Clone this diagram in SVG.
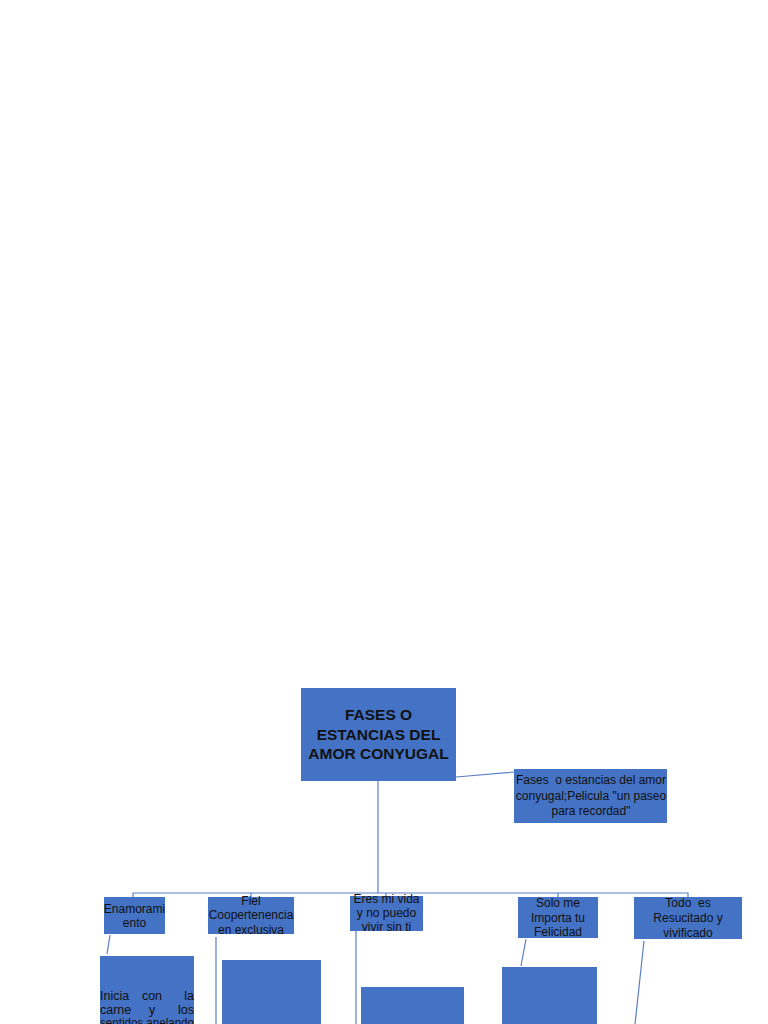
<svg xmlns="http://www.w3.org/2000/svg" width="768" height="1024" viewBox="0 0 768 1024">
<style>
.box{fill:#4472C4;}
.t{font-family:"Liberation Sans",Arial,sans-serif;font-size:12px;fill:#111;text-anchor:middle;}
.tl{font-family:"Liberation Sans",Arial,sans-serif;font-size:12.5px;fill:#111;}
.title{font-family:"Liberation Sans",Arial,sans-serif;font-size:15.5px;font-weight:bold;fill:#111;text-anchor:middle;}
.c{stroke:#5B7FC4;stroke-width:1.2;fill:none;}
</style>
<rect width="768" height="1024" fill="#fff"/>
<g id="connectors">
<line class="c" x1="456" y1="777" x2="514" y2="772"/>
<line class="c" x1="378" y1="781" x2="378" y2="893"/>
<polyline class="c" points="133,897 133,893 688,893 688,897"/>
<line class="c" x1="251" y1="893" x2="251" y2="897"/>
<line class="c" x1="386" y1="893" x2="386" y2="896"/>
<line class="c" x1="558" y1="893" x2="558" y2="897"/>
<line class="c" x1="110" y1="935" x2="107" y2="954"/>
<line class="c" x1="216" y1="937" x2="216" y2="1024"/>
<line class="c" x1="356" y1="931" x2="356" y2="1024"/>
<line class="c" x1="526" y1="939" x2="521" y2="966"/>
<line class="c" x1="644" y1="941" x2="635" y2="1024"/>
</g>
<g id="main">
<rect class="box" x="301" y="688" width="155" height="93"/>
<text class="title" x="378.5" y="720">FASES O</text>
<text class="title" x="378.5" y="740">ESTANCIAS DEL</text>
<text class="title" x="378.5" y="759">AMOR CONYUGAL</text>
</g>
<g id="side">
<rect class="box" x="514" y="769" width="153" height="54"/>
<text class="t" x="591" y="784" xml:space="preserve">Fases  o estancias del amor</text>
<text class="t" x="591" y="800">conyugal;Pelicula "un paseo</text>
<text class="t" x="591" y="815">para recordad"</text>
</g>
<g id="enamoramiento">
<rect class="box" x="104" y="897" width="61" height="37"/>
<text class="t" x="134.5" y="913">Enamorami</text>
<text class="t" x="134.5" y="927">ento</text>
</g>
<g id="fiel">
<rect class="box" x="208" y="897" width="86" height="37"/>
<text class="t" x="251" y="905">Fiel</text>
<text class="t" x="251" y="919">Coopertenencia</text>
<text class="t" x="251" y="934">en exclusiva</text>
</g>
<g id="eres">
<rect class="box" x="350" y="896" width="73" height="35"/>
<text class="t" x="386.5" y="903">Eres mi vida</text>
<text class="t" x="386.5" y="917">y no puedo</text>
<text class="t" x="386.5" y="931">vivir sin ti</text>
</g>
<g id="solo">
<rect class="box" x="518" y="897" width="80" height="41"/>
<text class="t" x="558" y="907">Solo me</text>
<text class="t" x="558" y="922">Importa tu</text>
<text class="t" x="558" y="936">Felicidad</text>
</g>
<g id="todo">
<rect class="box" x="634" y="897" width="108" height="42"/>
<text class="t" x="688" y="907" xml:space="preserve">Todo  es</text>
<text class="t" x="688" y="922">Resucitado y</text>
<text class="t" x="688" y="937">vivificado</text>
</g>
<g id="inicia">
<rect class="box" x="100" y="956" width="94" height="68"/>
<text class="tl" x="100" y="1000">Inicia</text>
<text class="tl" x="152" y="1000" text-anchor="middle">con</text>
<text class="tl" x="194" y="1000" text-anchor="end">la</text>
<text class="tl" x="100" y="1014">carne</text>
<text class="tl" x="152" y="1014" text-anchor="middle">y</text>
<text class="tl" x="194" y="1014" text-anchor="end">los</text>
<text class="tl" x="100" y="1027" textLength="94" lengthAdjust="spacingAndGlyphs">sentidos anelando</text>
</g>
<g id="box-fiel-detail">
<rect class="box" x="222" y="960" width="99" height="64"/>
</g>
<g id="box-eres-detail">
<rect class="box" x="361" y="987" width="103" height="37"/>
</g>
<g id="box-solo-detail">
<rect class="box" x="502" y="967" width="95" height="57"/>
</g>
</svg>
